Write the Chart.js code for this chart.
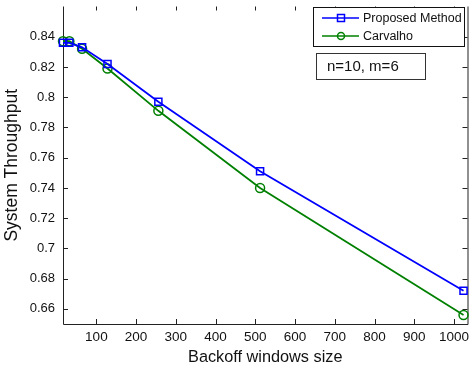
<!DOCTYPE html>
<html>
<head>
<meta charset="utf-8">
<script src="https://cdn.jsdelivr.net/npm/chart.js@4"></script>
<style>
  html, body { margin: 0; padding: 0; background: #fff; }
  #wrap { width: 474px; height: 367px; }
</style>
</head>
<body>
<div id="wrap"><canvas id="chart"></canvas></div>
<script>
// ---- data ----
const windowSizes = [16, 32, 64, 128, 256, 512, 1024];
const proposed = [0.836, 0.836, 0.833, 0.822, 0.797, 0.751, 0.672];
const carvalho = [0.837, 0.837, 0.832, 0.819, 0.791, 0.740, 0.656];
const xTicks = [100, 200, 300, 400, 500, 600, 700, 800, 900, 1000];
const yTicks = [0.66, 0.68, 0.7, 0.72, 0.74, 0.76, 0.78, 0.8, 0.82, 0.84];
const noteText = 'n=10, m=6';

const FONT = '"Liberation Sans", Arial, sans-serif';
const BLUE = '#0000ff';
const GREEN = '#008000';

// matlab style frame with ticks pointing inward (top edge sits just off the picture)
const framePlugin = {
  id: 'frame',
  beforeDatasetsDraw(chart) {
    const { ctx, chartArea: a, scales } = chart;
    ctx.save();
    ctx.strokeStyle = '#222';
    ctx.lineWidth = 1;
    ctx.beginPath();
    ctx.moveTo(a.left + 0.5, a.top);
    ctx.lineTo(a.left + 0.5, a.bottom + 0.5);
    ctx.lineTo(a.right + 0.5, a.bottom + 0.5);
    ctx.lineTo(a.right + 0.5, a.top);
    xTicks.forEach(v => {
      const px = Math.round(scales.x.getPixelForValue(v)) + 0.5;
      ctx.moveTo(px, a.bottom); ctx.lineTo(px, a.bottom - 5);
      ctx.moveTo(px, a.top); ctx.lineTo(px, a.top + 4);
    });
    yTicks.forEach(v => {
      const py = Math.round(scales.y.getPixelForValue(v)) + 0.5;
      ctx.moveTo(a.left, py); ctx.lineTo(a.left + 5, py);
      ctx.moveTo(a.right, py); ctx.lineTo(a.right - 5, py);
    });
    ctx.stroke();
    ctx.restore();
  },
  afterDraw(chart) {
    const { ctx } = chart;
    ctx.save();
    // legend box
    const lx = 313, ly = 7, lw = 151, lh = 39;
    ctx.fillStyle = '#fff';
    ctx.fillRect(lx, ly, lw, lh);
    ctx.strokeStyle = '#111';
    ctx.lineWidth = 1;
    ctx.strokeRect(lx + 0.5, ly + 0.5, lw, lh);
    ctx.font = '12.5px ' + FONT;
    ctx.textBaseline = 'middle';
    chart.data.datasets.forEach((ds, i) => {
      const y = ly + 11 + i * 18;
      ctx.strokeStyle = ds.borderColor;
      ctx.lineWidth = 1.5;
      ctx.beginPath();
      ctx.moveTo(lx + 9, y); ctx.lineTo(lx + 46, y);
      ctx.stroke();
      if (ds.pointStyle === 'rect') {
        ctx.strokeRect(lx + 24.5, y - 3.5, 7, 7);
      } else {
        ctx.beginPath();
        ctx.arc(lx + 28, y, 3.5, 0, Math.PI * 2);
        ctx.stroke();
      }
      ctx.fillStyle = '#111';
      ctx.fillText(ds.label, lx + 50, y + 1);
    });
    // annotation box
    const bx = 316, by = 53, bw = 109, bh = 26;
    ctx.strokeStyle = '#333';
    ctx.lineWidth = 1;
    ctx.strokeRect(bx + 0.5, by + 0.5, bw, bh);
    ctx.font = '15px ' + FONT;
    ctx.fillStyle = '#111';
    ctx.fillText(noteText, bx + 11, by + bh / 2 + 1);
    ctx.restore();
  }
};

new Chart(document.getElementById('chart'), {
  type: 'line',
  data: {
    datasets: [
      {
        label: 'Proposed Method',
        data: windowSizes.map((x, i) => ({ x, y: proposed[i] })),
        borderColor: BLUE,
        borderWidth: 1.8,
        pointStyle: 'rect',
        pointRadius: 5,
        pointBorderWidth: 1.5,
        pointBorderColor: BLUE,
        pointBackgroundColor: 'transparent',
        clip: false
      },
      {
        label: 'Carvalho',
        data: windowSizes.map((x, i) => ({ x, y: carvalho[i] })),
        borderColor: GREEN,
        borderWidth: 1.8,
        pointStyle: 'circle',
        pointRadius: 4.5,
        pointBorderWidth: 1.5,
        pointBorderColor: GREEN,
        pointBackgroundColor: 'transparent',
        clip: false
      }
    ]
  },
  options: {
    responsive: true,
    maintainAspectRatio: false,
    animation: false,
    layout: { padding: { top: 0, right: 4, left: 0, bottom: 0 } },
    plugins: {
      legend: { display: false },
      tooltip: { enabled: false }
    },
    scales: {
      x: {
        type: 'linear',
        min: 16,
        max: 1034,
        afterBuildTicks: s => { s.ticks = xTicks.map(v => ({ value: v })); },
        afterFit: s => { s.height = 43; s.paddingLeft = 0; s.paddingRight = 0; },
        grid: { display: false, drawTicks: false },
        border: { display: false },
        ticks: {
          color: '#111',
          font: { family: FONT, size: 13.5 },
          padding: 5,
          maxRotation: 0,
          autoSkip: false,
          callback: v => String(v)
        },
        title: {
          display: true,
          text: 'Backoff windows size',
          color: '#111',
          font: { family: FONT, size: 16.3 },
          padding: { top: 0, bottom: 0 }
        }
      },
      y: {
        min: 0.65,
        max: 0.86,
        afterBuildTicks: s => { s.ticks = yTicks.map(v => ({ value: v })); },
        afterFit: s => { s.width = 63; s.paddingTop = 0; s.paddingBottom = 0; },
        grid: { display: false, drawTicks: false },
        border: { display: false },
        ticks: {
          color: '#111',
          font: { family: FONT, size: 13 },
          padding: 8,
          autoSkip: false,
          callback: v => String(Math.round(v * 100) / 100)
        },
        title: {
          display: true,
          text: 'System Throughput',
          color: '#111',
          font: { family: FONT, size: 17.5 },
          padding: { top: 2, bottom: 0 }
        }
      }
    }
  },
  plugins: [framePlugin]
});
</script>
</body>
</html>
